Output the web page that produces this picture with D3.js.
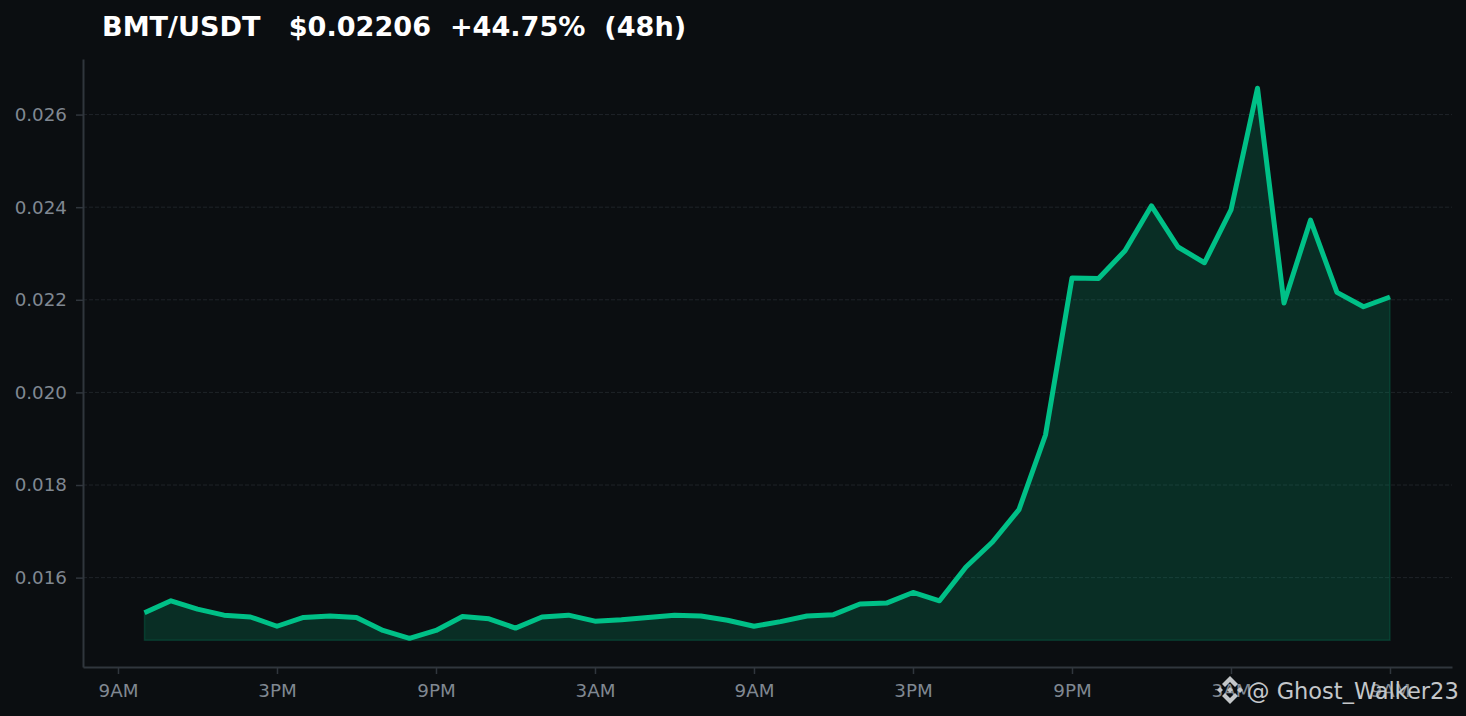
<!DOCTYPE html>
<html>
<head>
<meta charset="utf-8">
<script src="https://cdn.jsdelivr.net/npm/d3@7"></script>
<style>
  html, body { margin: 0; padding: 0; background: #0b0e11; overflow: hidden; }
  svg { display: block; font-family: "DejaVu Sans", sans-serif; }
</style>
</head>
<body>
<div class="chart"></div>
<script>
var svgWidth = 1466;
var svgHeight = 716;

// hours since the first 9AM tick
var hours = d3.range(1, 49);

var prices = [
  0.01524, 0.01550, 0.01532, 0.01519, 0.01515, 0.01495, 0.01514, 0.01517,
  0.01514, 0.01486, 0.01469, 0.01486, 0.01516, 0.01511, 0.01491, 0.01515,
  0.01519, 0.01506, 0.01509, 0.01514, 0.01519, 0.01517, 0.01508, 0.01495,
  0.01505, 0.01517, 0.01520, 0.01543, 0.01545, 0.01568, 0.01550, 0.01623,
  0.01677, 0.01747, 0.01908, 0.02247, 0.02246, 0.02306, 0.02403, 0.02314,
  0.02280, 0.02394, 0.02657, 0.02193, 0.02372, 0.02216, 0.02185, 0.02206
];

var baseline = 0.01465;

var xTickHours = [0, 6, 12, 18, 24, 30, 36, 42, 48];
var xTickLabels = ["9AM", "3PM", "9PM", "3AM", "9AM", "3PM", "9PM", "3AM", "9AM"];
var yTicks = [0.016, 0.018, 0.020, 0.022, 0.024, 0.026];

var titleText = "BMT/USDT   $0.02206  +44.75%  (48h)";
var watermarkText = "@ Ghost_Walker23";

var margin = { top: 59, right: 14, bottom: 49, left: 83 };
var width = svgWidth - margin.left - margin.right;
var height = svgHeight - margin.top - margin.bottom;

var svg = d3.select(".chart")
  .append("svg")
  .attr("width", svgWidth)
  .attr("height", svgHeight);

svg.append("rect")
  .attr("width", svgWidth)
  .attr("height", svgHeight)
  .attr("fill", "#0b0e11");

var chartGroup = svg.append("g")
  .attr("transform", `translate(${margin.left}, ${margin.top})`);

var xScale = d3.scaleLinear()
  .domain([-1.32, 50.34])
  .range([0, width]);

var yScale = d3.scaleLinear()
  .domain([0.01407, 0.0272])
  .range([height, 0]);

// grid
chartGroup.selectAll(".grid")
  .data(yTicks)
  .enter()
  .append("line")
  .attr("class", "grid")
  .attr("x1", 0)
  .attr("x2", width)
  .attr("y1", d => yScale(d))
  .attr("y2", d => yScale(d))
  .attr("stroke", "#1f2429")
  .attr("stroke-width", 1)
  .attr("stroke-dasharray", "4 2");

// area under the line
var area = d3.area()
  .x((d, i) => xScale(hours[i]))
  .y0(yScale(baseline))
  .y1(d => yScale(d));

chartGroup.append("path")
  .datum(prices)
  .attr("d", area)
  .attr("fill", "#00c087")
  .attr("fill-opacity", 0.18)
  .attr("stroke", "#00c087")
  .attr("stroke-opacity", 0.18)
  .attr("stroke-width", 1.5);

var line = d3.line()
  .x((d, i) => xScale(hours[i]))
  .y(d => yScale(d));

chartGroup.append("path")
  .datum(prices)
  .attr("d", line)
  .attr("fill", "none")
  .attr("stroke", "#00c087")
  .attr("stroke-width", 5)
  .attr("stroke-linejoin", "round");

// axes
var bottomAxis = d3.axisBottom(xScale)
  .tickValues(xTickHours)
  .tickFormat((d, i) => xTickLabels[i])
  .tickSizeInner(7)
  .tickSizeOuter(0)
  .tickPadding(10);

var leftAxis = d3.axisLeft(yScale)
  .tickValues(yTicks)
  .tickFormat(d3.format(".3f"))
  .tickSizeInner(7)
  .tickSizeOuter(0)
  .tickPadding(9);

var xAxisGroup = chartGroup.append("g")
  .attr("transform", `translate(0, ${height})`)
  .call(bottomAxis);

var yAxisGroup = chartGroup.append("g")
  .call(leftAxis);

[xAxisGroup, yAxisGroup].forEach(function(g) {
  g.select(".domain")
    .attr("stroke", "#30363d")
    .attr("stroke-width", 2);
  g.selectAll(".tick line")
    .attr("stroke", "#30363d")
    .attr("stroke-width", 1.5);
  g.selectAll(".tick text")
    .attr("fill", "#808892")
    .style("font-family", "'DejaVu Sans', sans-serif")
    .style("font-size", "18.3px");
});

// title
svg.append("text")
  .attr("x", 102)
  .attr("y", 36)
  .attr("fill", "#ffffff")
  .attr("font-weight", "bold")
  .attr("font-size", "27.1px")
  .style("white-space", "pre")
  .text(titleText);

// watermark, drawn over the axis labels
var mark = svg.append("g")
  .attr("transform", "translate(1230, 690)")
  .attr("fill", "#c4c7ca");

mark.append("path")
  .attr("d", "M0,-14 L8,-6 L5,-3 L0,-8 L-5,-3 L-8,-6 Z");
mark.append("path")
  .attr("d", "M0,14 L8,6 L5,3 L0,8 L-5,3 L-8,6 Z");
mark.append("path")
  .attr("d", "M-10,-3 L-7,0 L-10,3 L-13,0 Z");
mark.append("path")
  .attr("d", "M10,-3 L13,0 L10,3 L7,0 Z");
mark.append("path")
  .attr("d", "M0,-3 L3,0 L0,3 L-3,0 Z");

svg.append("text")
  .attr("x", 1247)
  .attr("y", 699)
  .attr("fill", "#c4c7ca")
  .attr("font-size", "22.5px")
  .text(watermarkText);
</script>
</body>
</html>
